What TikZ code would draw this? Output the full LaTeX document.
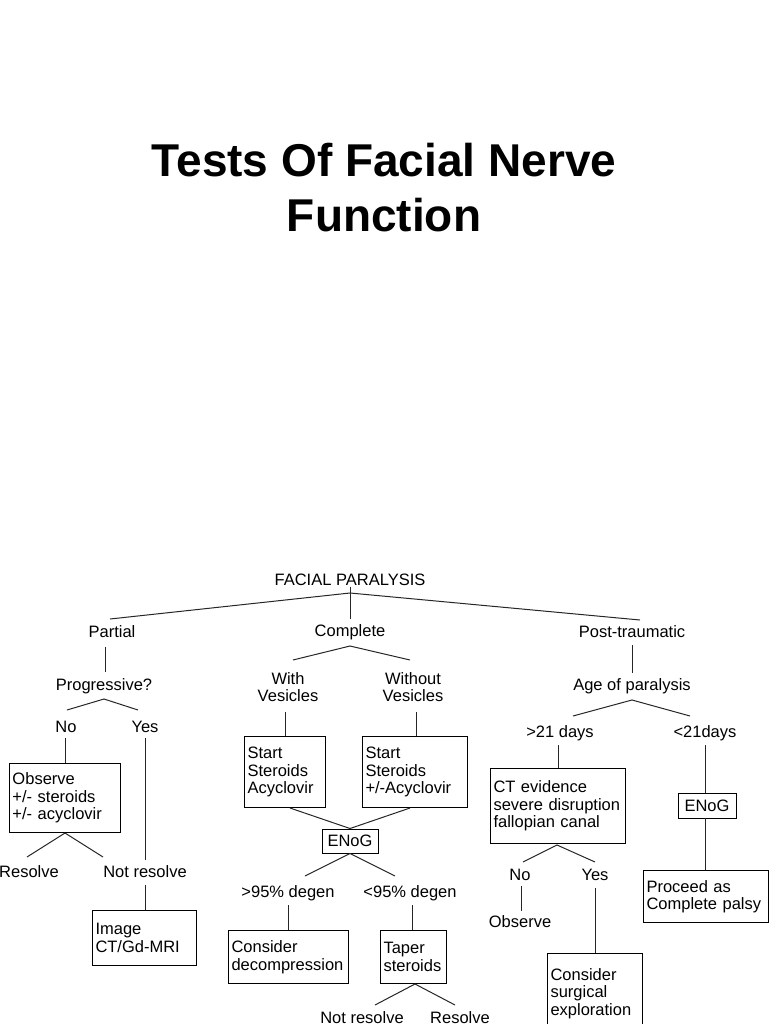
\documentclass[tikz,border=0pt]{standalone}
\usepackage{fontspec}
\setmainfont{Liberation Sans}
\begin{document}
\begin{tikzpicture}[x=1pt,y=-1pt,
  lbl/.style={font=\fontsize{16.5}{17}\selectfont, inner sep=1pt, align=center},
  box/.style={draw, line width=1pt, anchor=north west, inner sep=3pt, align=left, font=\fontsize{16.5}{17.5}\selectfont},
  ln/.style={line width=1pt, draw=black!85}]
\useasboundingbox (0,0) rectangle (768,1024);
\node[font=\bfseries\fontsize{46}{55}\selectfont, align=center] (title) at (384,188) {Tests Of Facial Nerve\\Function};

\node[lbl] (fp) at (350,580) {FACIAL PARALYSIS};
\coordinate (fpj) at (350,593);
\node[lbl] (partial) at (112,632) {Partial};
\node[lbl] (complete) at (350,632) {Complete};
\node[lbl] (post) at (632,632) {Post-traumatic};
\draw[ln] (fpj) -- (110,619) coordinate (pa);
\draw[ln] (fpj) -- (350,619);
\draw[ln] (fpj) -- (640,620);
\draw[ln] (fp.south) -- (fpj);

% Partial branch
\node[lbl] (prog) at (104,686) {Progressive?};
\draw[ln] (105,647) -- (105,672);
\node[lbl] (no1) at (66,727) {No};
\node[lbl] (yes1) at (145,727) {Yes};
\coordinate (pj) at (104,699);
\draw[ln] (67,710) -- (pj) -- (138,710);
\node[box, minimum width=111pt, minimum height=69pt, text width=105pt] (obs) at (9,763) {Observe\\+/- steroids\\+/- acyclovir};
\draw[ln] (65,738) -- (65,763);
\coordinate (oj) at (65,833);
\draw[ln] (27,857) -- (oj) -- (103,857);
\node[lbl, anchor=west] (res1) at (-2,872) {Resolve};
\node[lbl] (nres1) at (145,872) {Not resolve};
\draw[ln] (145,738) -- (145,860);
\node[box, minimum width=104pt, minimum height=55pt, text width=98pt] (img) at (92,910) {Image\\CT/Gd-MRI};
\draw[ln] (145,885) -- (145,910);

% Complete branch
\node[lbl] (with) at (288,687) {With\\Vesicles};
\node[lbl] (without) at (413,687) {Without\\Vesicles};
\coordinate (cj) at (350,646);
\draw[ln] (293,660) -- (cj) -- (410,660);
\node[box, minimum width=81pt, minimum height=71pt, text width=75pt] (s1) at (244,736) {Start\\Steroids\\Acyclovir};
\node[box, minimum width=105pt, minimum height=71pt, text width=99pt] (s2) at (362,736) {Start\\Steroids\\+/-Acyclovir};
\draw[ln] (285,712) -- (285,736);
\draw[ln] (416,712) -- (416,736);
\node[draw, line width=1pt, minimum width=56pt, minimum height=24pt, inner sep=2pt, font=\fontsize{16.5}{17}\selectfont] (enog1) at (350,841) {ENoG};
\draw[ln] (290,808) -- (enog1.north);
\draw[ln] (410,808) -- (enog1.north);
\node[lbl] (d1) at (288,893) {>95\% degen};
\node[lbl] (d2) at (410,893) {<95\% degen};
\draw[ln] (305,876) -- (enog1.south) -- (395,876);
\node[box, minimum width=120pt, minimum height=53pt, text width=114pt] (dec) at (228,930) {Consider\\decompression};
\node[box, minimum width=66pt, minimum height=53pt, text width=60pt] (tap) at (380,930) {Taper\\steroids};
\draw[ln] (288,905) -- (288,930);
\draw[ln] (412,905) -- (412,930);
\coordinate (tj) at (415,984);
\draw[ln] (375,1005) -- (tj) -- (455,1005);
\node[lbl] (nres2) at (362,1018) {Not resolve};
\node[lbl] (res2) at (460,1018) {Resolve};

% Post-traumatic branch
\node[lbl] (age) at (632,686) {Age of paralysis};
\draw[ln] (632,645) -- (632,673);
\coordinate (aj) at (632,700);
\draw[ln] (573,716) -- (aj) -- (690,716);
\node[lbl] (gt21) at (560,733) {>21 days};
\node[lbl] (lt21) at (705,733) {<21days};
\node[box, minimum width=135pt, minimum height=75pt, text width=129pt] (ct) at (490,768) {CT evidence\\severe disruption\\fallopian canal};
\draw[ln] (558,745) -- (558,768);
\coordinate (ctj) at (557,845);
\draw[ln] (523,862) -- (ctj) -- (595,862);
\node[lbl] (no2) at (520,875) {No};
\node[lbl] (yes2) at (595,875) {Yes};
\node[lbl] (obs2) at (520,922) {Observe};
\draw[ln] (521,886) -- (521,911);
\node[box, minimum width=95pt, minimum height=80pt, text width=89pt] (surg) at (547,953) {Consider\\surgical\\exploration};
\draw[ln] (595,888) -- (595,953);
\node[draw, line width=1pt, minimum width=58pt, minimum height=25pt, inner sep=2pt, font=\fontsize{16.5}{17}\selectfont] (enog2) at (707,806) {ENoG};
\draw[ln] (705,745) -- (705,793);
\node[box, minimum width=125pt, minimum height=52pt, text width=119pt] (proc) at (643,870) {Proceed as\\Complete palsy};
\draw[ln] (705,818) -- (705,870);
\end{tikzpicture}
\end{document}
